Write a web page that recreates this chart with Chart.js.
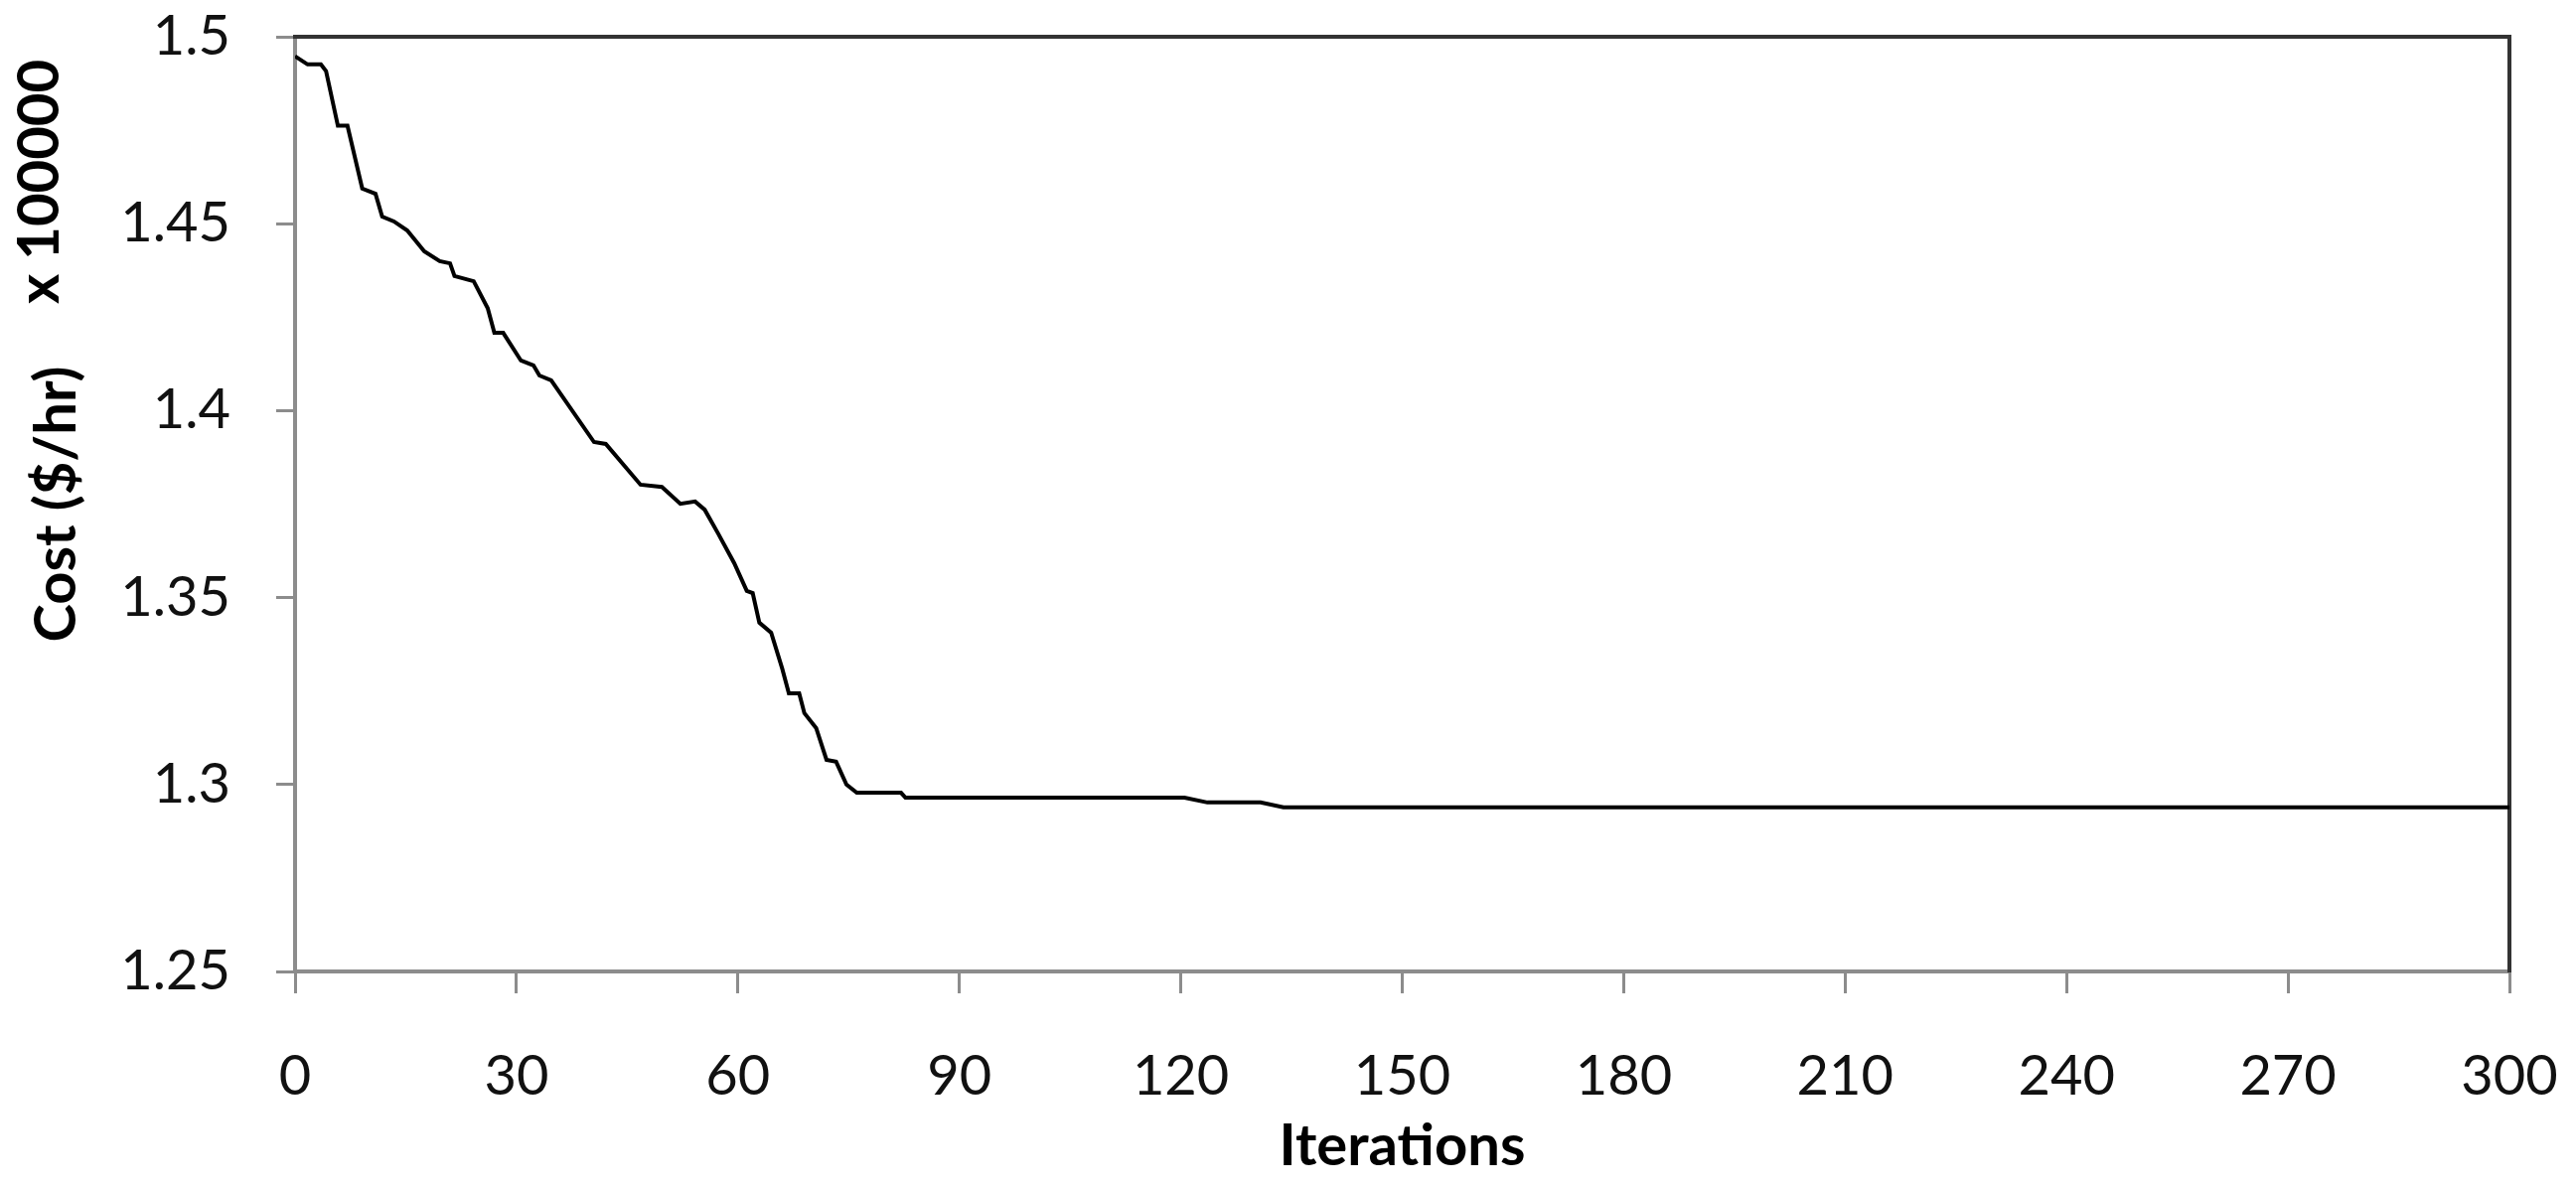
<!DOCTYPE html>
<html>
<head>
<meta charset="utf-8">
<script src="https://cdn.jsdelivr.net/npm/chart.js@4.4.0/dist/chart.umd.min.js"></script>
<style>
  html, body { margin: 0; padding: 0; background: #fff; }
  #wrap { width: 2593px; height: 1197px; }
</style>
</head>
<body>
<div id="wrap"><canvas id="costChart"></canvas></div>
<script>
// values (cost shown in units of 100000 $/hr)
const iterations = [0, 1.7, 3.5, 4.2, 5.8, 7.1, 9.1, 10.9, 11.8, 13.4, 15.2, 17.5, 19.6, 21.0, 21.6, 24.2,
  26.1, 27.0, 28.2, 30.6, 32.3, 33.1, 34.7, 40.5, 42.1, 46.8, 49.7, 52.2, 54.2, 55.5, 57.3, 59.5,
  61.2, 62.0, 62.9, 64.5, 66.0, 66.9, 68.3, 69.0, 70.6, 72.0, 73.3, 74.7, 76.1, 82.1, 82.7,
  120.5, 123.6, 130.8, 133.9, 300];
const cost = [1.4948, 1.4926, 1.4926, 1.4908, 1.4762, 1.4762, 1.4594, 1.4580, 1.4519, 1.4506, 1.4482, 1.4426, 1.4400, 1.4394, 1.4360, 1.4346,
  1.4274, 1.4208, 1.4208, 1.4134, 1.4121, 1.4094, 1.4081, 1.3916, 1.3911, 1.3802, 1.3796, 1.3751, 1.3757, 1.3735, 1.3672, 1.3592,
  1.3518, 1.3512, 1.3433, 1.3406, 1.3310, 1.3244, 1.3244, 1.3191, 1.3151, 1.3066, 1.3061, 1.3000, 1.2978, 1.2978, 1.2965,
  1.2965, 1.2952, 1.2952, 1.2939, 1.2939];

const xTickLabels = ['0', '30', '60', '90', '120', '150', '180', '210', '240', '270', '300'];
const yTickLabels = ['1.25', '1.3', '1.35', '1.4', '1.45', '1.5'];
const xTitle = 'Iterations';
const yTitle = 'Cost ($/hr)';
const displayUnit = 'x 100000';

const axisGray = '#8c8c8c';
const frameDark = '#333';

Chart.defaults.font.family = 'Lato';
Chart.defaults.color = '#111';

// no extra room for overhanging tick labels, layout padding decides the plot box
function noLabelPadding(scale) {
  scale.paddingTop = 0;
  scale.paddingBottom = 0;
  scale.paddingLeft = 0;
  scale.paddingRight = 0;
}

// Excel style display unit label, above the axis title
const unitLabel = {
  id: 'unitLabel',
  afterDraw(chart) {
    const ctx = chart.ctx;
    const area = chart.chartArea;
    ctx.save();
    ctx.translate(area.left - 257, area.top + 146);
    ctx.rotate(-Math.PI / 2);
    ctx.font = 'bold 58px Lato';
    ctx.fillStyle = '#000';
    ctx.textAlign = 'center';
    ctx.textBaseline = 'middle';
    ctx.fillText(displayUnit, 0, 0);
    ctx.restore();
  }
};

const points = iterations.map((it, i) => ({ x: it, y: cost[i] }));

new Chart(document.getElementById('costChart'), {
  type: 'scatter',
  data: {
    datasets: [{
      data: points,
      showLine: true,
      borderColor: '#000',
      borderWidth: 4,
      pointRadius: 0,
      tension: 0
    }]
  },
  options: {
    responsive: true,
    maintainAspectRatio: false,
    animation: false,
    devicePixelRatio: 1,
    layout: { padding: { top: 37, right: 67, left: 0, bottom: 0 } },
    plugins: {
      legend: { display: false },
      tooltip: { enabled: false }
    },
    scales: {
      x: {
        type: 'linear',
        min: 0,
        max: 300,
        afterFit(scale) { scale.height = 219; noLabelPadding(scale); },
        afterBuildTicks(scale) {
          scale.ticks = xTickLabels.map(l => ({ value: Number(l) }));
        },
        ticks: {
          callback: (v) => xTickLabels[Math.round(v / 30)],
          font: { size: 56 },
          padding: 50,
          maxRotation: 0,
          autoSkip: false
        },
        grid: { drawOnChartArea: false, drawTicks: true, tickLength: 22, color: axisGray, lineWidth: 3 },
        border: { color: axisGray, width: 4 },
        title: { display: true, text: xTitle, font: { size: 58, weight: 'bold' }, color: '#000', padding: { top: 0, bottom: 8 } }
      },
      y: {
        type: 'linear',
        min: 1.25,
        max: 1.5,
        afterFit(scale) { scale.width = 297; noLabelPadding(scale); },
        afterBuildTicks(scale) {
          scale.ticks = yTickLabels.map(l => ({ value: Number(l) }));
        },
        ticks: {
          callback: (v) => yTickLabels[Math.round((v - 1.25) / 0.05)],
          font: { size: 56 },
          padding: 46,
          autoSkip: false
        },
        grid: { drawOnChartArea: false, drawTicks: true, tickLength: 19, color: axisGray, lineWidth: 3 },
        border: { color: axisGray, width: 4 },
        title: { display: true, text: yTitle, font: { size: 58, weight: 'bold' }, color: '#000', padding: { top: 22, bottom: 0 } }
      },
      x2: {
        type: 'linear',
        position: 'top',
        afterFit(scale) { scale.height = 0; noLabelPadding(scale); },
        ticks: { display: false },
        grid: { display: false },
        border: { color: frameDark, width: 4 }
      },
      y2: {
        type: 'linear',
        position: 'right',
        afterFit(scale) { scale.width = 0; noLabelPadding(scale); },
        ticks: { display: false },
        grid: { display: false },
        border: { color: frameDark, width: 4 }
      }
    }
  },
  plugins: [unitLabel]
});
</script>
</body>
</html>
